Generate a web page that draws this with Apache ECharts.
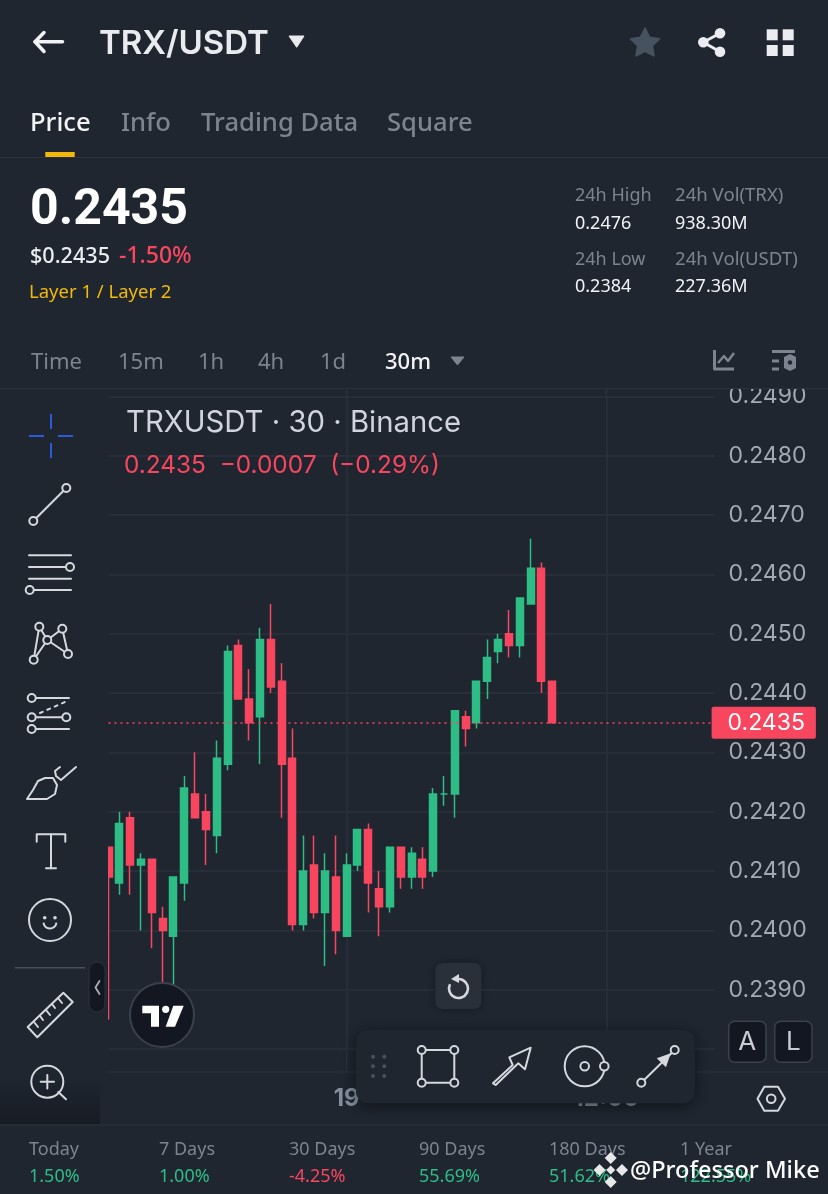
<!DOCTYPE html>
<html>
<head>
<meta charset="utf-8">
<title>TRX/USDT</title>
<style type="text/css">
  html, body { margin:0; padding:0; background:#1f2630; }
  #container { width:828px; height:1194px; }
</style>
<script src="https://cdn.jsdelivr.net/npm/echarts@6/dist/echarts.min.js"></script>
</head>
<body>
<div id="container"></div>
<script type="text/javascript">
// candle data (tick size 0.0001)
var times = ['13:00','13:30','14:00','14:30','15:00','15:30','16:00','16:30','17:00','17:30','18:00','18:30','19:00','19:30','20:00','20:30','21:00','21:30','22:00','22:30','23:00','23:30',
  '19','00:30','01:00','01:30','02:00','02:30','03:00','03:30','04:00','04:30','05:00','05:30','06:00','06:30','07:00','07:30','08:00','08:30','09:00','09:30','10:00','10:30','11:00','11:30',
  '12:00','12:30','13:00','13:30','14:00','14:30','15:00','15:30','16:00','16:30','17:00'];
var opens  = [0.2414,0.2408,0.2419,0.2411,0.2412,0.2402,0.2399,0.2408,0.2423,0.2420,0.2416,0.2428,0.2448,0.2439,0.2436,0.2449,0.2442,0.2429,0.2401,0.2411,0.2403,0.2409,0.2399,0.2411,0.2417,0.2407,0.2404,0.2414,0.2409,0.2412,0.2410,0.2423,0.2423,0.2436,0.2435,0.2442,0.2447,0.2450,0.2448,0.2455,0.2461,0.2442];
var closes = [0.2409,0.2418,0.2411,0.2412,0.2403,0.2400,0.2409,0.2424,0.2419,0.2417,0.2429,0.2447,0.2439,0.2435,0.2449,0.2441,0.2428,0.2401,0.2410,0.2403,0.2410,0.2400,0.2411,0.2417,0.2408,0.2404,0.2414,0.2409,0.2413,0.2409,0.2423,0.2423,0.2437,0.2434,0.2442,0.2446,0.2449,0.2448,0.2456,0.2461,0.2442,0.2435];
var lows   = [0.2385,0.2406,0.2406,0.2400,0.2397,0.2390,0.2390,0.2405,0.2419,0.2411,0.2413,0.2427,0.2439,0.2432,0.2428,0.2440,0.2419,0.2400,0.2400,0.2402,0.2394,0.2396,0.2399,0.2410,0.2403,0.2399,0.2403,0.2407,0.2407,0.2407,0.2409,0.2421,0.2419,0.2431,0.2434,0.2439,0.2445,0.2446,0.2446,0.2455,0.2440,0.2435];
var highs  = [0.2414,0.2420,0.2420,0.2413,0.2412,0.2404,0.2409,0.2426,0.2430,0.2423,0.2432,0.2448,0.2449,0.2444,0.2451,0.2455,0.2445,0.2434,0.2416,0.2416,0.2413,0.2416,0.2413,0.2417,0.2418,0.2410,0.2414,0.2414,0.2414,0.2414,0.2424,0.2426,0.2437,0.2437,0.2442,0.2449,0.2450,0.2454,0.2456,0.2466,0.2462,0.2442];
var lastPrice = 0.2435;
var axisMin = 0.2380, axisMax = 0.2490, axisStep = 0.001;
var timeMarks = ['19', '12:00'];

// texts of the app around the chart
var tabs = ['Price', 'Info', 'Trading Data', 'Square'];
var frames = ['Time', '15m', '1h', '4h', '1d', '30m'];
var periodNames = ['Today', '7 Days', '30 Days', '90 Days', '180 Days', '1 Year'];
var periodValues = ['1.50%', '1.00%', '-4.25%', '55.69%', '51.62%', '122.55%'];

var BG = '#1f2630', GREEN = '#2ebd85', RED = '#f8465f', YELLOW = '#f0b90b';
var GRID = '#2b323c', GREY = '#7d8490', ICON = '#d5d8dd', WHITE = '#f2f3f5';
var UI_FONT = '"Noto Sans", sans-serif';

var candles = [];
for (var i = 0; i < opens.length; i++) {
  candles.push([opens[i], closes[i], lows[i], highs[i]]);
}

// little helpers for the drawn app chrome
var ui = [];
function txt(x, y, s, size, color, o) {
  o = o || {};
  ui.push({type:'text', z:o.z || 110, style:{x:x, y:o.font ? y : y + 1.5, text:s, fontSize:size, fill:color,
    fontFamily:o.font || UI_FONT, fontWeight:o.weight || 400,
    textAlign:o.align || 'left', textVerticalAlign:'middle',
    shadowBlur:o.shadow || 0, shadowColor:'rgba(0,0,0,0.6)'}});
}
function rect(x, y, w, h, fill, o) {
  o = o || {};
  ui.push({type:'rect', z:o.z || 100, shape:{x:x, y:y, width:w, height:h, r:o.r || 0},
    style:{fill:fill, stroke:o.stroke || null, lineWidth:o.lw || 0,
    shadowBlur:o.blur || 0, shadowColor:o.sc || 'transparent', shadowOffsetY:o.sy || 0}});
}
function line(pts, color, w, o) {
  o = o || {};
  ui.push({type:'polyline', z:o.z || 110, shape:{points:pts},
    style:{stroke:color || ICON, lineWidth:w || 2, fill:null, lineCap:o.cap || 'round', lineJoin:'round', lineDash:o.dash || null}});
}
function poly(pts, fill, o) {
  o = o || {};
  ui.push({type:'polygon', z:o.z || 110, shape:{points:pts},
    style:{fill:fill, stroke:o.stroke || null, lineWidth:o.lw || 0, lineJoin:'round'}});
}
function dot(x, y, r, o) {
  o = o || {};
  ui.push({type:'circle', z:o.z || 111, shape:{cx:x, cy:y, r:r},
    style:{fill:o.fill === undefined ? BG : o.fill, stroke:o.stroke === undefined ? ICON : o.stroke, lineWidth:o.lw === undefined ? 2 : o.lw}});
}

// panels that hide whatever of the axes runs under them
rect(0, 0, 828, 388, BG);
rect(0, 388, 108, 736, BG);
ui.push({type:'rect', z:100, shape:{x:0, y:1076, width:100, height:48},
  style:{fill:new echarts.graphic.LinearGradient(0, 0, 0, 1, [{offset:0, color:BG}, {offset:1, color:'#171b24'}])}});

// top bar
line([[44,32.5],[35,41.7],[44,51.5]], WHITE, 3.5);
line([[35,41.7],[62.5,41.7]], WHITE, 3.5);
txt(99, 44, 'TRX/USDT', 33, '#e9ebee', {weight:600, font:'Inter, sans-serif'});
poly([[289,36],[304,36],[296.7,47.3]], '#e9ebee', {stroke:'#e9ebee', lw:1});
var star = [];
for (i = 0; i < 10; i++) {
  var r = i % 2 ? 7.5 : 15, a = -Math.PI / 2 + i * Math.PI / 5;
  star.push([645 + r * Math.cos(a), 43.5 + r * Math.sin(a)]);
}
poly(star, '#47525f', {stroke:'#47525f', lw:2});
line([[720,33.3],[703.3,42.3],[720,51.7]], '#eaecef', 3);
dot(720,33.3,5.3,{fill:'#eaecef',stroke:null,lw:0}); dot(703.3,42.3,5.3,{fill:'#eaecef',stroke:null,lw:0}); dot(720,51.7,5.3,{fill:'#eaecef',stroke:null,lw:0});
rect(766.7,29.3,11,11,'#eaecef',{z:110}); rect(782.7,29.3,11,11,'#eaecef',{z:110});
rect(766.7,45,11,11,'#eaecef',{z:110}); rect(782.7,45,11,11,'#eaecef',{z:110});

// tabs
var tabX = [30, 121, 201, 387];
tabs.forEach(function (s, k) { txt(tabX[k], 122, s, 25.6, k === 0 ? WHITE : GREY, {weight:500}); });
rect(45.3, 152, 29.4, 5, YELLOW, {z:111});
rect(0, 157, 828, 1, GRID, {z:110});

// price block
txt(30, 211, '0.2435', 50, '#ffffff', {weight:700, font:'Roboto, sans-serif'});
txt(30, 255, '$0.2435', 21.6, '#eaecef', {weight:500});
txt(119, 255, '-1.50%', 23, RED, {weight:500});
txt(29, 291, 'Layer 1 / Layer 2', 18.5, YELLOW, {});
txt(575, 194, '24h High', 18, GREY); txt(575, 222, '0.2476', 18, WHITE);
txt(575, 258, '24h Low', 18, GREY); txt(575, 285, '0.2384', 18, WHITE);
txt(675, 194, '24h Vol(TRX)', 18.6, GREY); txt(675, 222, '938.30M', 18, WHITE);
txt(675, 258, '24h Vol(USDT)', 18.6, GREY); txt(675, 285, '227.36M', 18, WHITE);

// timeframe row
var frameX = [31, 118, 198, 258, 320, 385];
frames.forEach(function (s, k) { txt(frameX[k], 361, s, 22, k === 5 ? WHITE : GREY, {weight:k === 5 ? 500 : 400}); });
poly([[451,357],[464,357],[457.5,365]], GREY, {stroke:GREY, lw:1});
line([[714.5,350],[714.5,369],[734,369]], GREY, 3, {cap:'butt'});
line([[718,363],[724,356],[728,361],[734,353]], GREY, 2.5, {cap:'butt'});
line([[772,351.5],[795,351.5]], GREY, 3, {cap:'butt'});
line([[772,361],[779,361]], GREY, 3, {cap:'butt'});
line([[772,369],[779,369]], GREY, 3, {cap:'butt'});
poly([[784,357],[790,354],[796,357],[796,368],[790,371],[784,368]], GREY);
dot(790, 362.5, 2.2, {fill:BG, stroke:null, lw:0});
rect(0, 388, 828, 1, GRID, {z:110});

// left drawing tools
var BLUE = '#2a5ada';
line([[51,414],[51,429]], BLUE, 2, {cap:'butt'}); line([[51,443],[51,458]], BLUE, 2, {cap:'butt'});
line([[29,436],[44,436]], BLUE, 2, {cap:'butt'}); line([[58,436],[73,436]], BLUE, 2, {cap:'butt'});
line([[33.3,521],[66.3,488]]); dot(33.3,521,4); dot(66.3,488,4);
line([[29,555.3],[71,555.3]]); line([[29,567],[70,567]]); dot(70,567,4);
line([[29,578.7],[71,578.7]]); line([[30,590],[71,590]]); dot(29.7,590,4);
line([[39.3,626.7],[33.7,659.7]]); line([[39.3,626.7],[47.3,640]]); line([[33.7,659.7],[47.3,640]]);
line([[47.3,640],[62.3,628.7]]); line([[47.3,640],[68,654]]); line([[62.3,628.7],[68,654]]);
dot(39.3,626.7,4); dot(62.3,628.7,4); dot(47.3,640,4); dot(68,654,4); dot(33.7,659.7,4);
line([[32,698],[69,698]]); dot(31.7,698,4);
line([[40,713],[65,702]], ICON, 2, {dash:[3,5]});
line([[32,717.3],[66,717.3]]); dot(31.7,717.3,4); dot(66.3,717.3,4);
line([[32,729],[69,729]]); dot(31.7,729,4);
line([[27,799],[33,790],[38,781],[45,778],[53,778],[57,785],[55,794],[47,799],[27,799]]);
line([[60,767],[55,771],[56,776],[61,780],[76,767]]);
line([[36.7,841.7],[36.7,834.3],[65.3,834.3],[65.3,841.7]]); line([[51,834.3],[51,868.3]]); line([[46,868.3],[56,868.3]]);
dot(50,920,21,{fill:null}); dot(44.7,917.7,1.8,{fill:ICON,stroke:null,lw:0}); dot(55,917.7,1.8,{fill:ICON,stroke:null,lw:0});
ui.push({type:'arc', z:111, shape:{cx:50, cy:922, r:6.5, startAngle:0.1, endAngle:Math.PI - 0.1, clockwise:true}, style:{stroke:ICON, lineWidth:2, fill:null}});
rect(15, 967, 70, 1.5, '#4a4f58', {z:110});
rect(89, 962, 16, 50, '#131722', {r:8, stroke:'#2c323c', lw:1, z:110});
line([[99.5,981],[95.5,987.5],[99.5,994]], '#aab0b9', 1.8);
poly([[63.3,992.7],[72.7,1002],[37.3,1037.3],[27.7,1027]], 'none', {stroke:ICON, lw:2});
line([[58,998],[62,1003]]); line([[52,1004],[55,1008]]); line([[46,1010],[50,1015]]); line([[40,1016],[43,1020]]); line([[34,1022],[38,1027]]);
dot(47.3,1081.7,16,{fill:null});
line([[40.7,1081.7],[54,1081.7]]); line([[47.3,1075],[47.3,1088.5]]); line([[58.3,1092],[66,1099.3]]);

// TradingView legend and badge
txt(126, 423, 'TRXUSDT · 30 · Binance', 29.3, '#d1d4dc', {font:'Inter, sans-serif', z:90});
txt(124, 466, '0.2435  \u22120.0007  (\u22120.29%)', 24.4, RED, {font:'Inter, sans-serif', z:90});
dot(162, 1015, 32, {fill:'#131722', stroke:'#3b404a', lw:2, z:105});
poly([[142.3,1005.7],[159,1005.7],[159,1026.7],[151,1026.7],[151,1013.3],[142.3,1013.3]], '#fff');
dot(165.7, 1009.3, 3.6, {fill:'#fff', stroke:null, lw:0});
poly([[183.7,1005.7],[175,1026.7],[165.7,1026.7],[173.3,1005.7]], '#fff');

// floating buttons
rect(435.3, 963, 46, 46, '#2a303a', {r:7, blur:8, sc:'rgba(0,0,0,0.35)'});
ui.push({type:'arc', z:110, shape:{cx:458.5, cy:988.5, r:9.5, startAngle:-1.9, endAngle:3.6, clockwise:true}, style:{stroke:ICON, lineWidth:2.6, fill:null}});
poly([[459,974],[459,983],[451,979]], ICON);
rect(356, 1030, 339, 73.3, BG, {r:12, blur:16, sc:'rgba(0,0,0,0.5)', sy:3});
[373,384.3].forEach(function (x) { [1056.7,1066.3,1076].forEach(function (y) { dot(x,y,2,{fill:'#4b5059',stroke:null,lw:0}); }); });
line([[421.7,1050],[454.3,1050],[454.3,1082.7],[421.7,1082.7],[421.7,1050]]);
dot(421.7,1050,4); dot(454.3,1050,4); dot(421.7,1082.7,4); dot(454.3,1082.7,4);
line([[493,1083.3],[512.7,1065],[509.3,1057.3],[530.7,1047.7],[525,1069.3],[518.3,1063.3],[495.7,1085],[493,1083.3]]);
dot(584.7,1066.3,20,{fill:null}); dot(584.7,1066.3,4.3); dot(604.3,1066.3,4.3);
line([[641.3,1082.7],[674.7,1050]]);
poly([[670.7,1053.3],[656.7,1058.3],[666,1067.3]], ICON);
dot(641.3,1082.7,4); dot(674.7,1050,4);

// auto / log switches and settings
rect(728.7,1021.3,37.3,41,'#131722',{r:6,stroke:'#3b404a',lw:1.5});
rect(774.7,1021.3,37.3,41,'#131722',{r:6,stroke:'#3b404a',lw:1.5});
txt(747.3,1042,'A',26,'#c8ccd2',{align:'center',font:'Inter, sans-serif'});
txt(793.3,1042,'L',26,'#c8ccd2',{align:'center',font:'Inter, sans-serif'});
poly([[757.5,1098.7],[764.3,1086.7],[778,1086.7],[785,1098.7],[778,1110.7],[764.3,1110.7]], 'none', {stroke:ICON, lw:2});
dot(771.2,1098.7,4.3,{fill:null});

// bottom change row
rect(0, 1124.5, 828, 1, GRID, {z:110});
var periodX = [29, 159, 289, 419, 549, 680];
periodNames.forEach(function (s, k) {
  txt(periodX[k], 1148, s, 18, GREY);
  txt(periodX[k], 1175, periodValues[k], 18, periodValues[k].charAt(0) === '-' ? RED : GREEN);
});

// watermark
[[610.7,1158],[599.5,1170],[622,1170],[610.7,1182]].forEach(function (p) {
  poly([[p[0],p[1]-6],[p[0]+6,p[1]],[p[0],p[1]+6],[p[0]-6,p[1]]], '#e8e8e8', {z:120});
});
poly([[610.7,1165.5],[615.2,1170],[610.7,1174.5],[606.2,1170]], '#e8e8e8', {z:120});
txt(630, 1170, '@Professor Mike', 23.6, '#ffffff', {z:120, shadow:3, weight:500});

var dom = document.getElementById('container');
var myChart = echarts.init(dom);
var option = {
  backgroundColor: BG,
  animation: false,
  grid: { left:108.5, top:396.25, width:606.1, height:652.85, containLabel:false },
  xAxis: {
    type: 'category',
    data: times,
    boundaryGap: false,
    axisLine: { show:false },
    axisTick: { show:false },
    axisLabel: {
      margin: 38,
      fontSize: 24,
      fontFamily: 'Inter, sans-serif',
      fontWeight: 700,
      color: '#848e9c',
      interval: function (idx, val) { return timeMarks.indexOf(val) >= 0 && idx >= 22; }
    },
    splitLine: {
      show: true,
      lineStyle: { color:GRID, width:1.5 },
      interval: function (idx, val) { return timeMarks.indexOf(val) >= 0 && idx >= 22; }
    }
  },
  yAxis: {
    type: 'value',
    position: 'right',
    min: axisMin,
    max: axisMax,
    interval: axisStep,
    scale: true,
    axisLine: { show:false },
    axisTick: { show:false },
    axisLabel: {
      margin: 14,
      fontSize: 23,
      fontFamily: 'Inter, sans-serif',
      color: '#a4a9b1',
      padding: [2, 0, 0, 0],
      formatter: function (v) { return v < axisMin + axisStep / 2 ? '' : v.toFixed(4); }
    },
    splitLine: { show:true, lineStyle:{ color:GRID, width:1.5 } }
  },
  series: [{
    type: 'candlestick',
    clip: false,
    barWidth: 7.5,
    data: candles,
    itemStyle: {
      color: GREEN, color0: RED,
      borderColor: GREEN, borderColor0: RED, borderColorDoji: GREEN,
      borderWidth: 1.5
    },
    markLine: {
      silent: true,
      symbol: 'none',
      animation: false,
      precision: 4,
      lineStyle: { color:RED, type:[2,4], width:1.5 },
      label: {
        show: true,
        position: 'end',
        distance: 0,
        offset: [-3, 0],
        formatter: lastPrice.toFixed(4),
        color: '#ffffff',
        fontSize: 23,
        fontFamily: 'Inter, sans-serif',
        backgroundColor: RED,
        padding: [5, 11, 4, 16],
        borderRadius: 2
      },
      data: [{ yAxis:lastPrice }]
    }
  }]
};
myChart.setOption(option);

// the two time lines run a little past the price grid, up to the panel edges
timeMarks.forEach(function (m) {
  var idx = times.lastIndexOf(m);
  var x = myChart.convertToPixel({ xAxisIndex:0 }, idx);
  line([[x,388],[x,397]], GRID, 1.5, {z:1, cap:'butt'});
  line([[x,1049],[x,1072]], GRID, 1.5, {z:1, cap:'butt'});
});
rect(108, 1071.5, 720, 1, GRID, {z:1});
myChart.setOption({ graphic:{ elements:ui } });
</script>
</body>
</html>
